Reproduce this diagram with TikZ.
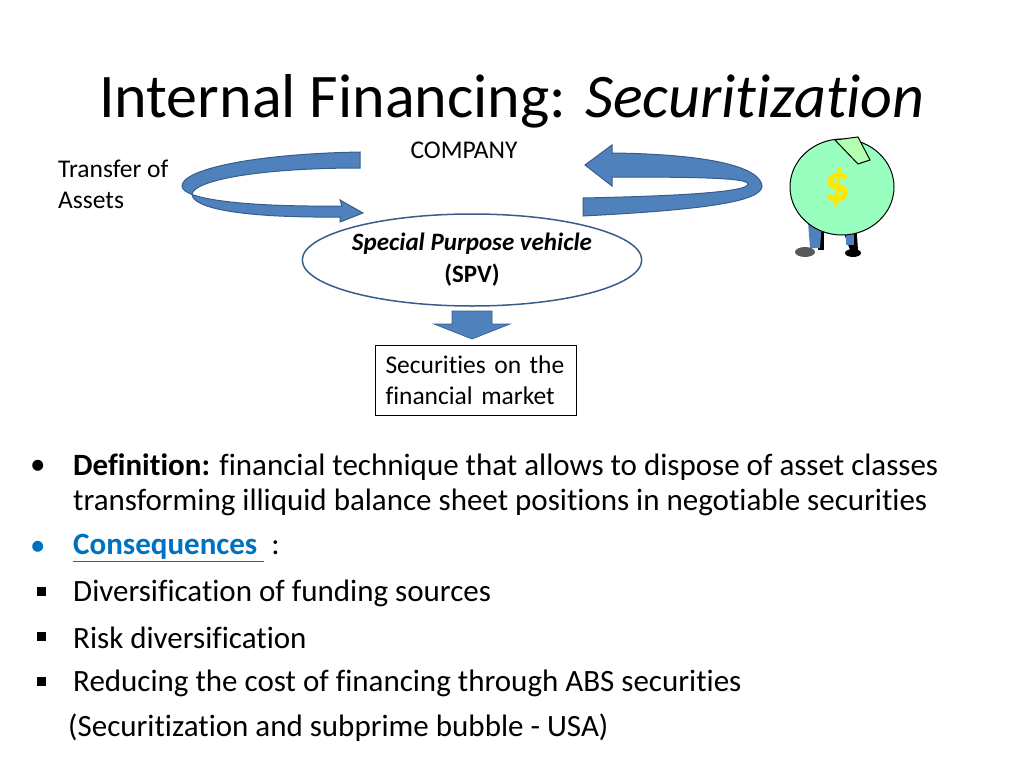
\documentclass[tikz,border=0pt]{standalone}
\usepackage{fontspec}
\usetikzlibrary{shapes.geometric}
\setmainfont{Carlito}[Ligatures=NoCommon]
\definecolor{ablue}{HTML}{4F81BD}
\definecolor{adark}{HTML}{385D8A}
\definecolor{lnk}{HTML}{0070C0}
\begin{document}
\begin{tikzpicture}[x=1pt,y=-1pt,
 arr/.style={fill=ablue,draw=adark,line width=1pt},
 body/.style={anchor=west,font=\fontsize{31}{36}\selectfont,inner sep=0},
 small/.style={font=\fontsize{25.5}{31}\selectfont,align=left}]
\useasboundingbox (0,0) rectangle (1024,768);
\node[anchor=base,font=\fontsize{62}{70}\selectfont] (title) at (512,117) {Internal Financing: \textit{Securitization}};
\node[small] (comp) at (464,150) {COMPANY};
\node[small,anchor=north west,inner sep=0] (tr) at (58,160) {Transfer of\\Assets};
% left arrow
\path[arr] (360,152) .. controls (250,154) and (182,170) .. (182,186) .. controls (182,200) and (250,207) .. (342,206) -- (340,200) -- (363,213) -- (340,222) -- (340,217) .. controls (240,218) and (192,208) .. (192,194) .. controls (195,180) and (260,168) .. (360,168) -- cycle;
% right arrow
\path[arr] (585,165) -- (612,145) -- (612,153) .. controls (700,154) and (760,165) .. (762,186) .. controls (762,202) and (700,210) .. (583,216) -- (583,198) .. controls (680,196) and (748,192) .. (748,184) .. controls (748,178) and (700,177) .. (612,177) -- (612,186) -- cycle;
\node[draw=adark,line width=1.5pt,ellipse,minimum width=320,minimum height=92,align=center,font=\fontsize{25}{32}\selectfont,inner sep=0] (spv) at (472,260) {\textbf{\textit{Special Purpose vehicle}}\\\textbf{(SPV)}};
\path[arr,line width=0.7pt] (452,311) -- (492,311) -- (492,324) -- (510,324) -- (472,339) -- (434,324) -- (452,324) -- cycle;
\node[draw,line width=1pt,small,anchor=north west,minimum width=201,minimum height=70,inner xsep=10,text width=181] (sec) at (375,345) {Securities on the\\financial market};
% money bag
\fill[black] (818,232) rectangle (824,250);
\fill[ablue] (808,222) -- (822,222) -- (820,248) -- (810,248) -- cycle;
\fill[black] (840,222) -- (856,222) -- (858,250) -- (850,250) -- cycle;
\fill[ablue] (846,232) rectangle (854,245);
\fill[gray!70!black] (805,252) ellipse (10 and 5);
\fill[black] (853,253) ellipse (8 and 4);
\draw[fill=green!30!white!85!cyan,line width=1pt] (842,187) ellipse (52 and 48);
\draw[fill=green!30!white,line width=1pt] (835,140) -- (858,137) -- (870,160) -- (858,164) -- cycle;
\node[font=\fontsize{52}{52}\selectfont\bfseries,text=yellow!90!orange,draw=black,draw opacity=0] (dol) at (838,188) {\$};
% bullets
\node[body] (b1) at (30,467) {•};
\node[body] (t1) at (73,467) {\textbf{Definition:} financial technique that allows to dispose of asset classes};
\node[body] (t1b) at (73,502) {transforming illiquid balance sheet positions in negotiable securities};
\node[body,text=lnk] (b2) at (30,548) {•};
\node[body] (t2) at (73,548) {\textcolor{lnk}{\textbf{\underline{Consequences }}} :};
\foreach \y/\t [count=\i] in {593/Diversification of funding sources,638/Risk diversification,683/Reducing the cost of financing through ABS securities}{
 \fill (37,\y-6) rectangle +(9,9);
 \node[body] (s\i) at (73,\y) {\t};
}
\node[body] (t3) at (68,728) {(Securitization and subprime bubble - USA)};
\end{tikzpicture}
\end{document}
